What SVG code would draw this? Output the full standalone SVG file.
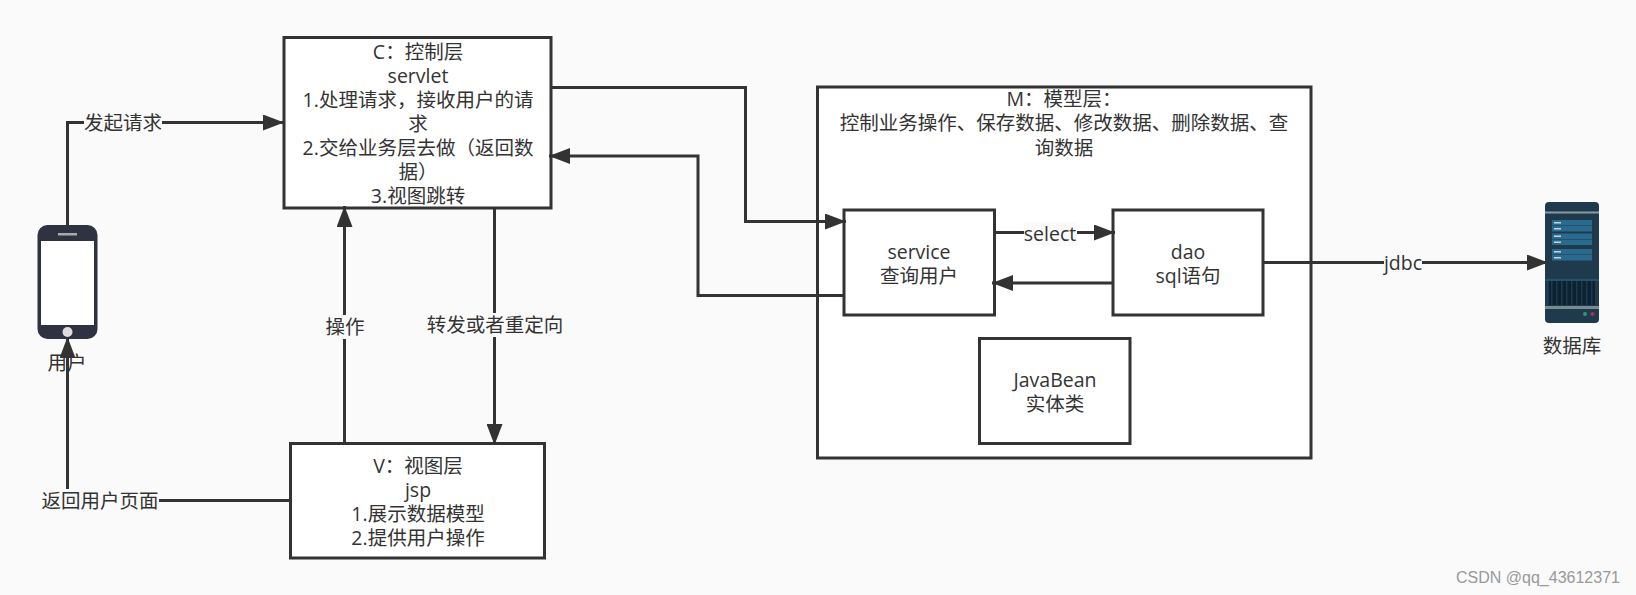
<svg xmlns="http://www.w3.org/2000/svg" width="1636" height="595" viewBox="0 0 1636 595">
<defs>
<style>
text{font-family:"Open Sans","Noto Sans CJK SC",sans-serif;font-size:19.5px;fill:#333;text-anchor:middle}
.box{fill:#fff;stroke:#333;stroke-width:3}
.c{fill:none;stroke:#333;stroke-width:3}
.lb{fill:#fafafa}
.row{fill:#2a6a8e}
.dash{fill:#c5d5de}
.wm{font-family:"Liberation Sans",sans-serif;font-size:16px;fill:#999}
</style>
<marker id="a" markerUnits="userSpaceOnUse" markerWidth="22" markerHeight="16" refX="21" refY="8" orient="auto"><path d="M0 0L21 8L0 16Z" fill="#333"/></marker>
<pattern id="bars" width="5" height="24" patternUnits="userSpaceOnUse"><rect width="5" height="24" fill="#0d2230"/><rect x="1" width="1.500" height="24" fill="#1b3a4e"/></pattern>
</defs>
<rect width="1636" height="595" fill="#fafafa"/>
<g id="node-c"><rect class="box" x="284" y="37.500" width="267" height="170.500"/>
<text x="418" y="59">C：控制层</text><text x="418" y="83">servlet</text><text x="418" y="107">1.处理请求，接收用户的请</text><text x="418" y="131">求</text><text x="418" y="155">2.交给业务层去做（返回数</text><text x="418" y="179">据）</text><text x="418" y="203">3.视图跳转</text></g>
<g id="node-v"><rect class="box" x="290.500" y="443.500" width="254" height="114.500"/>
<text x="418" y="473">V：视图层</text><text x="418" y="497">jsp</text><text x="418" y="521">1.展示数据模型</text><text x="418" y="545">2.提供用户操作</text></g>
<g id="node-m"><rect class="box" x="817.500" y="87" width="493.500" height="371"/>
<text x="1064" y="106">M：模型层：</text><text x="1064" y="130">控制业务操作、保存数据、修改数据、删除数据、查</text><text x="1064" y="155">询数据</text></g>
<g id="node-service"><rect class="box" x="844" y="210" width="150.500" height="105"/><text x="919" y="259">service</text><text x="919" y="283">查询用户</text></g>
<g id="node-dao"><rect class="box" x="1113" y="210" width="150" height="105"/><text x="1188" y="259">dao</text><text x="1188" y="283">sql语句</text></g>
<g id="node-javabean"><rect class="box" x="979.500" y="338.500" width="150.500" height="105"/><text x="1055" y="387">JavaBean</text><text x="1055" y="411">实体类</text></g>
<g id="node-user">
<rect x="37.500" y="225" width="60" height="114" rx="10" fill="#2f3341"/>
<rect x="41" y="241" width="53" height="84" fill="#fff"/>
<rect x="58" y="233" width="19" height="2.500" fill="#aaa"/>
<circle cx="67.500" cy="332" r="5" fill="#ddd"/>
<text x="67" y="370">用户</text></g>
<g id="node-db">
<rect x="1545" y="202" width="54" height="121" rx="4" fill="#1f3a4c"/>
<rect x="1545" y="211.500" width="54" height="2" fill="#8a9aa3"/>
<rect class="row" x="1552" y="220" width="40" height="5.500"/><rect class="row" x="1552" y="226" width="40" height="5.500"/>
<rect class="row" x="1552" y="233.500" width="40" height="5.500"/><rect class="row" x="1552" y="239.500" width="40" height="5.500"/>
<rect class="row" x="1552" y="249" width="40" height="5.500"/><rect class="row" x="1552" y="255" width="40" height="5.500"/>
<rect class="dash" x="1554" y="222" width="7" height="1.500"/><rect class="dash" x="1554" y="228" width="7" height="1.500"/>
<rect class="dash" x="1554" y="235.500" width="7" height="1.500"/><rect class="dash" x="1554" y="241.500" width="7" height="1.500"/>
<rect class="dash" x="1554" y="251" width="7" height="1.500"/><rect class="dash" x="1554" y="257" width="7" height="1.500"/>
<rect x="1545" y="279.500" width="54" height="1" fill="#2a6a8e"/>
<rect x="1549" y="281" width="46" height="24" fill="url(#bars)"/>
<rect x="1545" y="306" width="54" height="3" fill="#7a8a93"/>
<circle cx="1585" cy="314" r="2" fill="#2a9a6a"/><circle cx="1592.500" cy="314" r="2" fill="#b03050"/>
<text x="1572" y="353">数据库</text></g>
<g id="connectors">
<path class="c" d="M67.500 225V122.500H284" marker-end="url(#a)"/>
<rect class="lb" x="84" y="110" width="78" height="24"/><text x="123" y="130">发起请求</text>
<path class="c" d="M290.500 500.500H67.500V337" marker-end="url(#a)"/>
<rect class="lb" x="42" y="489" width="117" height="24"/><text x="100" y="508">返回用户页面</text>
<path class="c" d="M344.500 443.500V206" marker-end="url(#a)"/>
<rect class="lb" x="326" y="315" width="39" height="24"/><text x="345" y="334">操作</text>
<path class="c" d="M494.500 208V445" marker-end="url(#a)"/>
<rect class="lb" x="427" y="313" width="136" height="24"/><text x="495" y="332">转发或者重定向</text>
<path class="c" d="M551 87.500H745.500V221.500H846" marker-end="url(#a)"/>
<path class="c" d="M844 295.500H698V156H549" marker-end="url(#a)"/>
<path class="c" d="M994.500 232.500H1115" marker-end="url(#a)"/>
<rect class="lb" x="1024" y="222" width="53" height="24"/><text x="1050" y="241">select</text>
<path class="c" d="M1113 283H992" marker-end="url(#a)"/>
<path class="c" d="M1263 262.500H1548" marker-end="url(#a)"/>
<rect class="lb" x="1384" y="252" width="38" height="24"/><text x="1403" y="270">jdbc</text>
</g>
<text class="wm" x="1538" y="583">CSDN @qq_43612371</text>
</svg>
